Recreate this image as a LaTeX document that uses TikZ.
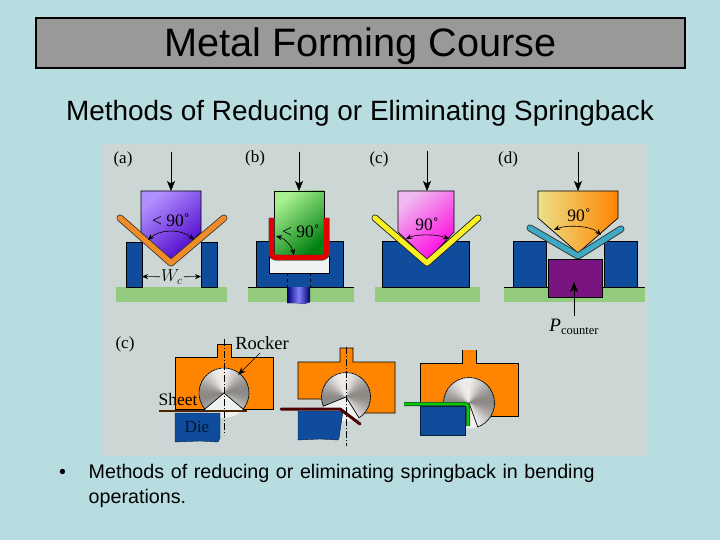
\documentclass[tikz,border=0pt]{standalone}
\usepackage{fontspec}
\setmainfont{Liberation Sans}
\newfontfamily\figfont{Liberation Serif}
\usetikzlibrary{arrows.meta}
\definecolor{slidebg}{HTML}{B8DDE1}
\definecolor{panelbg}{HTML}{CCD6D4}
\definecolor{titlegrey}{HTML}{999999}
\definecolor{dieblue}{HTML}{104C9C}
\definecolor{basegreen}{HTML}{93CC7F}
\definecolor{rockorange}{HTML}{FF8500}
\definecolor{sheetorange}{HTML}{F08C28}
\definecolor{sheetcyan}{HTML}{3FA9C4}
\definecolor{sheetyellow}{HTML}{F8F020}
\definecolor{counterpurple}{HTML}{7A1480}
\definecolor{cavity}{HTML}{EEF2F0}
\definecolor{punchalight}{HTML}{B090FF}
\definecolor{punchadark}{HTML}{4A00C8}
\definecolor{punchblight}{HTML}{A8F090}
\definecolor{punchbdark}{HTML}{008010}
\definecolor{punchclight}{HTML}{F0B8F0}
\definecolor{punchcdark}{HTML}{FF00E0}
\definecolor{punchdlight}{HTML}{ECE088}
\tikzset{
  die/.style={draw=black,fill=dieblue,line width=0.7pt},
  base/.style={fill=basegreen},
  sheetline/.style={line join=round,line cap=round},
  figlabel/.style={font=\figfont\fontsize{17}{19}\selectfont,inner sep=0pt},
  anglelabel/.style={font=\figfont\fontsize{17.5}{19}\selectfont,inner sep=0pt},
  dimline/.style={{Stealth[length=6pt,width=5pt]}-{Stealth[length=6pt,width=5pt]},line width=0.6pt},
  halfdim/.style={-{Stealth[length=6pt,width=5pt]},line width=0.6pt},
  forceline/.style={-{Stealth[length=10pt,width=8pt,inset=2.5pt]},line width=0.7pt},
  rockbody/.style={draw=black,fill=rockorange,line width=0.7pt},
  punch/.style 2 args={draw=black,line width=0.7pt,top color=#1,bottom color=#2,shading angle=40},
  centreline/.style={line width=0.5pt,dash pattern=on 7pt off 2pt on 1pt off 2pt}
}
% one rocker: centre, radius, start angle
\newcommand{\rockerfan}[4]{
  \pgfmathsetmacro{\aend}{#4+255}
  \pgfmathsetmacro{\asec}{#4+5}
  \foreach \a in {#4,\asec,...,\aend}{
    \pgfmathsetmacro{\shadeval}{26+20*cos(2*(\a-170))}
    \fill[black!\shadeval!white,draw=black!\shadeval!white,line width=0.2pt] (#1,#2) -- ++(\a:#3) arc (\a:\a+5:#3) -- cycle;
  }
  \fill[cavity] (#1,#2) -- ++(#4+260:#3) arc (#4+260:#4+360:#3) -- cycle;
  \draw[line width=0.7pt,dash pattern=on 2.5pt off 0.5pt] (#1,#2) ++(#4:#3) arc (#4:#4+260:#3);
  \draw[line width=0.7pt] (#1,#2) -- ++(#4:#3);
  \draw[line width=0.7pt] (#1,#2) -- ++(#4+260:#3);
}
\begin{document}
\begin{tikzpicture}[line cap=butt,line join=miter,x=1pt,y=-1pt]
  \useasboundingbox (0,0) rectangle (720,540);
  \fill[slidebg] (0,0) rectangle (720,540);

  \node[draw=black,line width=1.6pt,fill=titlegrey,minimum width=649pt,minimum height=50pt,inner sep=0pt,
    text height=34pt,text depth=6pt,font=\fontsize{39.7}{42}\selectfont] (title) at (360.5,43) {Metal Forming Course};
  \node[font=\fontsize{27.9}{32}\selectfont,inner sep=0pt,anchor=base] (subtitle) at (360,121) {Methods of Reducing or Eliminating Springback};

  \fill[panelbg] (102,144) rectangle (648,456);

  % top row, bases
  \foreach \xa/\xb in {116/227,248/354,375/480,504/645}{
    \fill[base] (\xa,287) rectangle (\xb,301.5);
  }
  \draw[line width=0.7pt] (248,287) -- (354,287);
  \draw[line width=0.7pt] (504,287) -- (645,287);

  % (a)
  \draw[die] (126,242) rectangle (142,287);
  \draw[die] (201,242) rectangle (217,287);
  \draw[punch={punchalight}{punchadark}]
    (141,191) -- (201,191) -- (201,232) -- (171,263) -- (141,232) -- cycle;
  \draw[sheetline,line width=7pt,black!80] (120,218) -- (171,263) -- (224,218);
  \draw[sheetline,line width=5.4pt,sheetorange] (120,218) -- (171,263) -- (224,218);
  \node[anglelabel] (anglea) at (171,220) {< 90˚};
  \coordinate (aleft) at (148,240);
  \coordinate (aright) at (194,240);
  \draw[dimline] (aleft) .. controls (160,229) and (182,229) .. (aright);
  \node[figlabel,inner xsep=1pt] (wc) at (172,277) {$W_c$};
  \coordinate (wleft) at (142,276.5);
  \coordinate (wright) at (201,276.5);
  \draw[halfdim] (wc) -- (wleft);
  \draw[halfdim] (wc) -- (wright);
  \node[figlabel] (laba) at (123,159) {(a)};
  \coordinate (fa) at (171,152);
  \coordinate (pa) at (171,191);
  \draw[forceline] (fa) -- (pa);

  % (b)
  \draw[die] (256,241) rectangle (343,287);
  \fill[cavity,draw=black,line width=0.7pt] (269,256) rectangle (329,273);
  \draw[line width=0.5pt,dashed] (287,273) -- (287,287);
  \draw[line width=0.5pt,dashed] (310,273) -- (310,287);
  \draw[punch={punchblight}{punchbdark}] (274,191) rectangle (324,256);
  \draw[sheetline,line width=6pt,black!70,rounded corners=4pt,line cap=butt] (271.5,218) -- (271.5,257.5) -- (326.5,257.5) -- (326.5,218);
  \draw[sheetline,line width=4.6pt,red!90!black,rounded corners=4pt,line cap=butt] (271.5,218) -- (271.5,257.5) -- (326.5,257.5) -- (326.5,218);
  \node[anglelabel] (angleb) at (301,231) {< 90˚};
  \coordinate (bleft) at (276,236);
  \coordinate (bright) at (294,255);
  \draw[dimline] (bleft) .. controls (286,239) and (292,247) .. (bright);
  \node[figlabel] (labb) at (255,158) {(b)};
  \coordinate (fb) at (299,152);
  \coordinate (pb) at (299,191);
  \draw[forceline] (fb) -- (pb);
  \fill[left color=blue!45!black,right color=blue!40!black,middle color=blue!50!white] (287,287) -- (310,287) -- (310,302) -- (304,304) -- (295,303) -- (287,303) -- cycle;

  % (c)
  \draw[die] (382,241) rectangle (469,287);
  \fill[cavity] (405,238) -- (448,238) -- (427,258) -- cycle;
  \draw[punch={punchclight}{punchcdark}]
    (398,191) -- (454,191) -- (454,232) -- (439,248) -- (427,262) -- (415,248) -- (398,232) -- cycle;
  \draw[sheetline,line width=7pt,black!85] (375,218) -- (427,263) -- (478,218);
  \draw[sheetline,line width=5.2pt,sheetyellow] (375,218) -- (427,263) -- (478,218);
  \node[anglelabel] (anglec) at (427,224) {90˚};
  \coordinate (cleft) at (406,239);
  \coordinate (cright) at (449,239);
  \draw[dimline] (cleft) .. controls (416,234) and (437,234) .. (cright);
  \node[figlabel] (labc) at (379,159) {(c)};
  \coordinate (fc) at (427,151);
  \coordinate (pc) at (427,191);
  \draw[forceline] (fc) -- (pc);

  % (d)
  \draw[die] (513,241) rectangle (546,287);
  \draw[die] (604,241) rectangle (637,287);
  \draw[draw=black,line width=0.7pt,left color=punchdlight,right color=rockorange]
    (538,191) -- (618,191) -- (618,218) -- (578,253) -- (538,218) -- cycle;
  \draw[sheetline,line width=7pt,black!80] (530,228) -- (578,256) -- (621,229);
  \draw[sheetline,line width=5.2pt,sheetcyan] (530,228) -- (578,256) -- (621,229);
  \draw[draw=black,line width=0.7pt,fill=counterpurple] (548,259) rectangle (602,297);
  \node[anglelabel] (angled) at (579,215) {90˚};
  \coordinate (dleft) at (554,230);
  \coordinate (dright) at (601,235);
  \draw[dimline] (dleft) .. controls (565,225) and (590,225) .. (dright);
  \node[figlabel] (labd) at (508,159) {(d)};
  \coordinate (fd) at (578,152);
  \coordinate (pd) at (578,191);
  \draw[forceline] (fd) -- (pd);
  \node[figlabel,font=\figfont\fontsize{19}{21}\selectfont] (pcounter) at (574,327) {\textit{P}\raisebox{-3pt}{\fontsize{12.5}{14}\selectfont counter}};
  \coordinate (pup) at (574,282);
  \coordinate (plow) at (574,316);
  \draw[forceline] (plow) -- (pup);

  % bottom row, first
  \node[figlabel] (labe) at (125,344) {(c)};
  \draw[rockbody] (175,357) -- (217,357) -- (217,344) -- (231,344) -- (231,357) -- (273,357) -- (273,409) -- (175,409) -- cycle;
  \rockerfan{224}{393}{25}{140}
  \draw[black!70!orange,line width=2.5pt] (159,411) -- (247,411);
  \fill[dieblue,draw=black!60!dieblue,line width=0.4pt] (175,413) -- (220,413) -- (220,438) -- (218,442) -- (200,441) -- (175,442) -- cycle;
  \draw[centreline] (224,339) -- (224,435);
  \node[figlabel,font=\figfont\fontsize{18.5}{21}\selectfont] (rocker) at (262,343) {Rocker};
  \node[figlabel,font=\figfont\fontsize{17.5}{21}\selectfont] (sheet) at (178,400) {Sheet};
  \node[figlabel,text=black!70!dieblue] (dielabel) at (197,427) {Die};
  \coordinate (rtip) at (238,375);
  \coordinate (rtail) at (260,353);
  \draw[-{Stealth[length=8pt,width=6pt]},line width=0.7pt] (rtail) -- (rtip);

  % bottom row, second
  \draw[rockbody] (298,362) -- (340,362) -- (340,348) -- (353,348) -- (353,362) -- (395,362) -- (395,413) -- (360,413) -- (345,399) -- (298,399) -- cycle;
  \rockerfan{346}{397}{24.5}{158}
  \fill[dieblue,draw=black!60!dieblue,line width=0.4pt] (298,411) -- (343,411) -- (339,438) -- (338,440) -- (320,439) -- (298,440) -- cycle;
  \draw[sheetline,line width=3pt,black!70!red] (281,409) -- (340,409) -- (360,424);
  \draw[centreline] (346,347) -- (346,446);

  % bottom row, third
  \fill[rockorange] (420,363) rectangle (518,416);
  \fill[rockorange] (462,350) rectangle (476,364);
  \draw[line width=0.7pt] (420,402) -- (420,363) -- (462,363) -- (462,350);
  \draw[line width=0.7pt] (476,350) -- (476,363) -- (518,363) -- (518,416) -- (490,416);
  \rockerfan{469}{403}{25.5}{170}
  \fill[dieblue,draw=black!60!dieblue,line width=0.4pt] (420,406) -- (465,406) -- (465,435) -- (420,435) -- cycle;
  \draw[line width=4pt,black!80,rounded corners=3pt] (404,404) -- (468,404) -- (468,426);
  \draw[line width=2.8pt,green!80!black,rounded corners=3pt] (404,404) -- (468,404) -- (468,426);

  \node[font=\fontsize{19.7}{24.5}\selectfont,inner sep=0pt,anchor=base west] (bullet) at (59,478.5) {•};
  \node[font=\fontsize{19.7}{24.5}\selectfont,inner sep=0pt,anchor=base west,align=left,text width=560pt] (bodytext) at (88.5,478.5)
    {Methods of reducing or eliminating springback in bending\\operations.};
\end{tikzpicture}
\end{document}
